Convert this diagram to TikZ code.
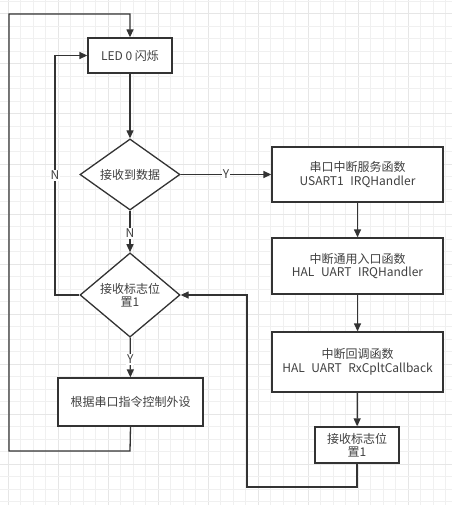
\documentclass[tikz,border=0pt]{standalone}
\usepackage{fontspec}
\setmainfont{Noto Sans CJK SC}
\usetikzlibrary{arrows.meta,shapes.geometric}
\definecolor{ln}{HTML}{333333}
\definecolor{tx}{HTML}{404040}
\definecolor{gridminor}{HTML}{F0F0F0}
\definecolor{gridmajor}{HTML}{E6E6E6}
\newcommand{\gapw}{\hspace{0.55em}}
\tikzset{
  box/.style={draw=ln, line width=1.3pt, fill=white, rectangle, inner sep=0pt, align=center, text=tx},
  dec/.style={draw=ln, line width=1.3pt, fill=white, diamond, inner sep=0pt, align=center, text=tx},
  arr/.style={draw=ln, line width=1.3pt, -{Triangle[length=8pt,width=7pt]}},
  lbl/.style={fill=white, text=tx, inner sep=1pt},
}
\begin{document}
\begin{tikzpicture}[x=1pt,y=-1pt,font=\fontsize{12}{13.5}\selectfont]
\useasboundingbox (0,0) rectangle (452,505);
\fill[white] (0,0) rectangle (452,505);
% grid
\foreach \k in {0,...,35} {
  \pgfmathsetmacro{\xx}{8.3+12.5*\k}
  \pgfmathtruncatemacro{\m}{mod(\k,4)}
  \ifnum\m=0
    \draw[gridmajor, line width=1pt] (\xx,0) -- (\xx,505);
  \else
    \draw[gridminor, line width=1pt] (\xx,0) -- (\xx,505);
  \fi
}
\foreach \k in {0,...,40} {
  \pgfmathsetmacro{\yy}{1.5+12.5*\k}
  \pgfmathtruncatemacro{\m}{mod(\k,4)}
  \ifnum\m=1
    \draw[gridmajor, line width=1pt] (0,\yy) -- (452,\yy);
  \else
    \draw[gridminor, line width=1pt] (0,\yy) -- (452,\yy);
  \fi
}
% nodes
\node[box, minimum width=84pt, minimum height=35pt] (led) at (130,55.5) {LED 0 闪烁};
\node[dec, minimum width=100pt, minimum height=65pt] (d1) at (130,174.5) {接收到数据};
\node[dec, minimum width=100pt, minimum height=66pt] (d2) at (130,295) {接收标志位\\置1};
\node[box, minimum width=145pt, minimum height=48pt] (ctrl) at (130.5,402) {根据串口指令控制外设};
\node[box, minimum width=171pt, minimum height=55pt] (b1) at (357.5,174.5) {串口中断服务函数\\USART1\gapw IRQHandler};
\node[box, minimum width=171pt, minimum height=56pt] (b2) at (357.5,266) {中断通用入口函数\\HAL\gapw UART\gapw IRQHandler};
\node[box, minimum width=171pt, minimum height=60pt] (b3) at (357.5,362) {中断回调函数\\HAL\gapw UART\gapw RxCpltCallback};
\node[box, minimum width=84pt, minimum height=36pt] (b4) at (357,445) {接收标志位\\置1};
% corner coordinates
\coordinate (c1) at (130,451);
\coordinate (c2) at (9,14);
\coordinate (c3) at (55,295);
\coordinate (c4) at (357,487);
\coordinate (c5) at (247,295);
% connectors
\draw[arr] (led) -- (d1);
\draw[arr] (d1) -- node[lbl, pos=0.5] {Y} (b1);
\draw[arr] (d1) -- node[lbl, pos=0.55] {N} (d2);
\draw[arr] (d2) -- node[lbl, pos=0.55] {Y} (ctrl);
\draw[arr] (d2.west) -- (c3) |- node[lbl, pos=0.25] {N} (led.west);
\draw[arr] (ctrl.south) -- (c1) -| (c2) -| (led.north);
\draw[arr] (b1) -- (b2);
\draw[arr] (b2) -- (b3);
\draw[arr] (b3) -- (b4);
\draw[arr] (b4.south) -- (c4) -| (c5) -- (d2.east);
\end{tikzpicture}
\end{document}
